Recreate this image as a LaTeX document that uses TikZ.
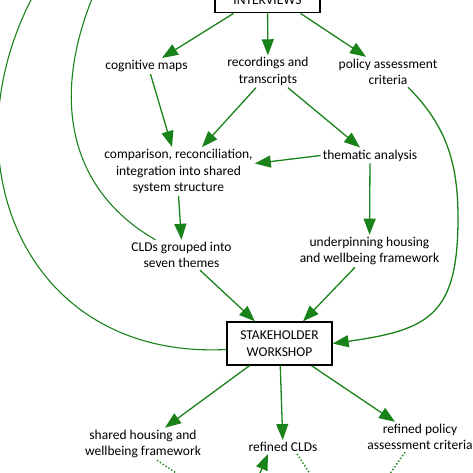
\documentclass[tikz,border=0pt]{standalone}
\usepackage{fontspec}
\setmainfont{Carlito}
\usetikzlibrary{arrows.meta}
\definecolor{flowgreen}{RGB}{25,130,25}

\begin{document}
\begin{tikzpicture}[x=1pt, y=-1pt,
		font=\fontsize{13.5}{16.5}\selectfont,
		txt/.style={align=center, inner sep=2pt},
		stage/.style={draw, line width=1.3pt, align=center, minimum width=105pt, inner sep=3pt},
		flow/.style={draw=flowgreen, line width=1.3pt, -{Triangle[length=16pt, width=12pt]}},
		link/.style={draw=flowgreen, line width=1.1pt},
		later/.style={draw=flowgreen, line width=1.4pt, dotted}]
	\useasboundingbox (0,0) rectangle (473,473);
	\clip (0,0) rectangle (473,473);
	\node[stage, minimum height=24.5pt] (interviews) at (267.5,0.5) {INTERVIEWS};
	\node[txt] (cog) at (146.5,66) {cognitive maps};
	\node[txt] (rec) at (268,71.5) {recordings and\\transcripts};
	\node[txt] (pol) at (388,72) {policy assessment\\criteria};
	\node[txt] (cmp) at (178.5,171.5) {comparison, reconciliation,\\integration into shared\\system structure};
	\node[txt] (thm) at (370,155.5) {thematic analysis};
	\node[txt] (cld) at (181.5,255) {CLDs grouped into\\seven themes};
	\node[txt] (und) at (369.5,251) {underpinning housing\\and wellbeing framework};
	\node[stage, minimum height=43pt] (wks) at (279.5,343.5) {STAKEHOLDER\\WORKSHOP};
	\node[txt] (sha) at (143,444) {shared housing and\\wellbeing framework};
	\node[txt] (rcl) at (283,447) {refined CLDs};
	\node[txt] (rpo) at (420,437) {refined policy\\assessment criteria};
	\coordinate (outer top) at (42,-20);
	\coordinate (inner top) at (100,-20);
	\coordinate (pol bend) at (458,218);
	\coordinate (rcl in) at (252,492);
	\coordinate (sha out) at (209,495);
	\coordinate (rcl out) at (324,495);
	\coordinate (rpo out) at (375,495);

	\draw[flow] ([xshift=-34pt]interviews.south) -- ([xshift=15.5pt]cog.north);
	\draw[flow] (interviews) -- (rec);
	\draw[flow] ([xshift=33pt]interviews.south) -- ([xshift=-22pt]pol.north);
	\draw[flow] ([xshift=4pt]cog.south) -- ([xshift=-6.5pt]cmp.north);
	\draw[flow] ([xshift=-12pt]rec.south) -- ([xshift=23.5pt]cmp.north);
	\draw[flow] ([xshift=20pt]rec.south) -- ([xshift=-10pt]thm.north);
	\draw[flow] (thm.west) -- ([yshift=8pt]cmp.east);
	\draw[flow] (cmp.south) -- (cld.north);
	\draw[flow] (thm) -- (und);
	\draw[flow] ([xshift=18.5pt]cld.south) -- ([xshift=-24.5pt]wks.north);
	\draw[flow] ([xshift=-14.5pt]und.south) -- ([xshift=23.5pt]wks.north);
	\draw[flow] ([xshift=20pt]pol.south) to[out=-45, in=90] (pol bend) to[out=-90, in=8, looseness=1.4] (wks.east);
	\draw[link] (outer top) .. controls (-60,150) and (20,360) .. ([yshift=-6pt]wks.west);
	\draw[link] (inner top) .. controls (45,100) and (72,192) .. ([xshift=-26pt]cld.north);
	\draw[flow] ([xshift=-30pt]wks.south) -- ([xshift=22pt]sha.north);
	\draw[flow] (wks) -- (rcl);
	\draw[flow] ([xshift=32pt]wks.south) -- ([xshift=-25pt]rpo.north);
	\draw[flow] (rcl in) -- ([xshift=-15pt]rcl.south);
	\draw[later] ([xshift=14pt]sha.south) -- (sha out);
	\draw[later] ([xshift=14pt]rcl.south) -- (rcl out);
	\draw[later] ([xshift=-15pt]rpo.south) -- (rpo out);
\end{tikzpicture}
\end{document}
